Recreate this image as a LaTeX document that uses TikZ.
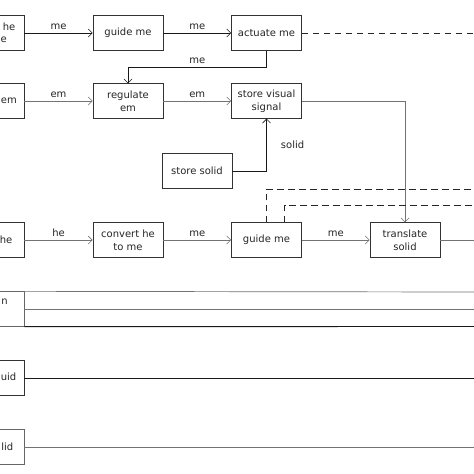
\documentclass[tikz,border=0pt]{standalone}
\usepackage{fontspec}
\setmainfont{DejaVu Sans}
\usetikzlibrary{arrows.meta}
\begin{document}
\begin{tikzpicture}[x=1pt,y=-1pt,
  font=\fontsize{10}{13}\selectfont,
  fbox/.style={draw=black!80,line width=0.8pt,minimum width=70pt,minimum height=34.5pt,inner sep=1pt,align=center,text=black!85},
  flow/.style={draw=black!55,line width=0.7pt},
  bold/.style={draw=black!90,line width=0.9pt},
  arr/.style={-{Straight Barb[length=4pt,width=8pt,line width=0.6pt]}},
  dashline/.style={draw=black!85,line width=0.9pt,dash pattern=on 6.5pt off 4.5pt},
  lbl/.style={text=black!85,inner sep=0pt}]
\useasboundingbox (0,0) rectangle (474,474);
\clip (0,0) rectangle (474,474);
\fill[white] (0,0) rectangle (474,474);
% boxes
\node[fbox] (L1) at (-11,33) {};
\node[fbox] (g1) at (128,33) {guide me};
\node[fbox] (act) at (266.5,33) {actuate me};
\node[fbox] (L2) at (-11,101) {};
\node[fbox] (reg) at (128,101) {regulate\\em};
\node[fbox] (svs) at (266.5,101) {store visual\\signal};
\node[fbox] (ss) at (197,171) {store solid};
\node[fbox] (L3) at (-11,240) {};
\node[fbox] (conv) at (128,240) {convert he\\to me};
\node[fbox] (g2) at (266.5,240) {guide me};
\node[fbox] (tr) at (405,240) {translate\\solid};
\node[fbox,draw=black!60] (L4) at (-11,309) {};
\node[fbox] (L5) at (-11,378) {};
\node[fbox,draw=black!60] (L6) at (-11,447) {};
% partial texts of left boxes
\node[lbl,anchor=east] (t1a) at (15.5,26.5) {he};
\node[lbl,anchor=east] (t1b) at (7,40) {e};
\node[lbl,anchor=east] (t2) at (17,101) {em};
\node[lbl,anchor=east] (t3) at (12.5,240) {he};
\node[lbl,anchor=east] (t4) at (8,302) {n};
\node[lbl,anchor=east] (t5) at (16.5,377) {uid};
\node[lbl,anchor=east] (t6) at (13.5,447) {lid};
% free ends
\coordinate (e1) at (474,33);
\coordinate (e2) at (474,189);
\coordinate (e3) at (474,205);
\coordinate (e4) at (474,240);
% row 1
\draw[bold,arr] (L1.east) -- node[lbl,above=3pt] {me} (g1.west);
\draw[bold,arr] (g1.east) -- node[lbl,above=3pt] {me} (act.west);
\draw[dashline] (act.east) -- (e1);
\draw[bold,arr] (act.south) |- (266.5,67) -| node[lbl,pos=0.25,above=3pt] {me} (reg.north);
% row 2
\draw[flow,arr] (L2.east) -- node[lbl,above=3pt] {em} (reg.west);
\draw[flow,arr] (reg.east) -- node[lbl,above=3pt] {em} (svs.west);
\draw[flow,arr] (svs.east) -| (tr.north);
\draw[bold,arr] (ss.east) -| node[lbl,pos=0.75,right=14pt] {solid} (svs.south);
% dashed
\draw[dashline] (g2.north) |- (e2);
\draw[dashline] ([xshift=18pt]g2.north) |- (e3);
% row 3
\draw[flow,arr] (L3.east) -- node[lbl,above=3pt] {he} (conv.west);
\draw[flow,arr] (conv.east) -- node[lbl,above=3pt] {me} (g2.west);
\draw[flow,arr] (g2.east) -- node[lbl,above=3pt] {me} (tr.west);
\draw[flow] (tr.east) -- (e4);
% lower rows
\draw[flow] (L4.north east) -- (474,292);
\draw[flow] (L4.east) -- (474,309);
\draw[bold] (L4.south east) -- (474,326.5);
\draw[bold] (L5.east) -- (474,378);
\draw[flow] (L6.east) -- (474,447);
\end{tikzpicture}
\end{document}
